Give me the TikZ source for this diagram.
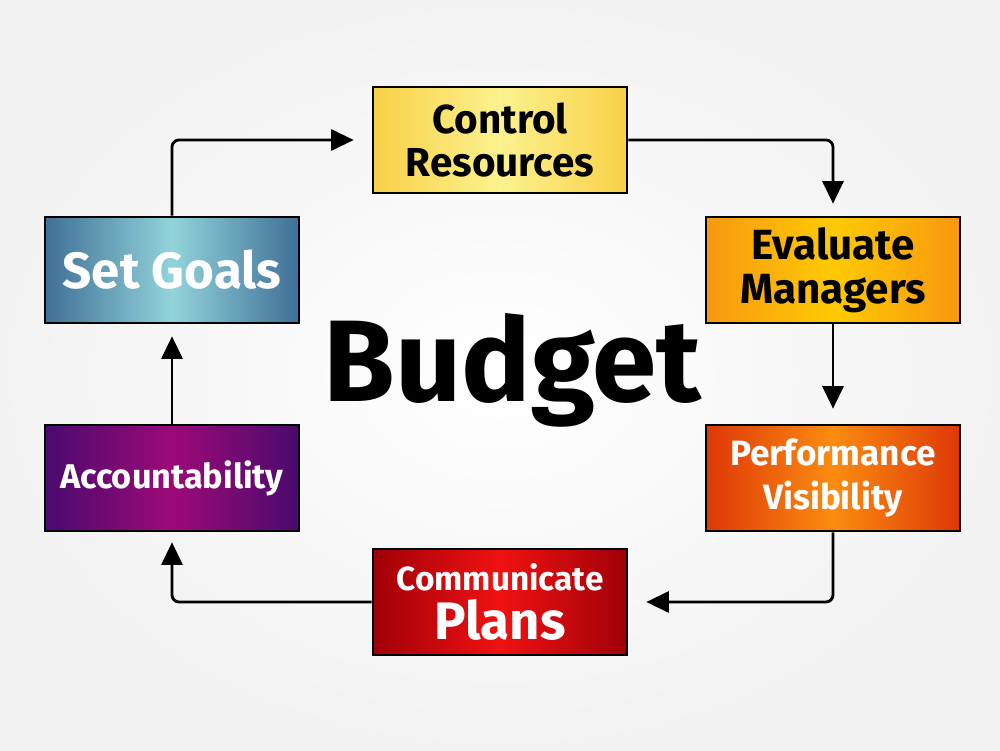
\documentclass[tikz,border=0pt]{standalone}
\usepackage{fontspec}
\setmainfont{Fira Sans}
\usetikzlibrary{arrows.meta}

\definecolor{goalsedge}{HTML}{3F6F96}
\definecolor{goalsmid}{HTML}{92D4DA}
\definecolor{ctrledge}{HTML}{F8D048}
\definecolor{ctrlmid}{HTML}{FBF28E}
\definecolor{evaledge}{HTML}{F89810}
\definecolor{evalmid}{HTML}{FDCA02}
\definecolor{perfedge}{HTML}{DE3808}
\definecolor{perfmid}{HTML}{FB8C10}
\definecolor{commedge}{HTML}{A00008}
\definecolor{commmid}{HTML}{F01212}
\definecolor{acctedge}{HTML}{4A0A6E}
\definecolor{acctmid}{HTML}{9C0A78}

\begin{document}
\begin{tikzpicture}[
    stepbox/.style={draw=black, line width=1.5pt, minimum width=5.08cm, minimum height=2.12cm,
        align=center, inner sep=2pt, font=\bfseries},
    flow/.style={line width=1.6pt, rounded corners=4pt, -{Triangle[length=0.45cm,width=0.42cm]}}
  ]
    % background
    \useasboundingbox (0,0) rectangle (20,15) ;
    \shade [inner color=white, outer color=black!5] (0,0) rectangle (20,15) ;

    % boxes
    \node [stepbox, left color=ctrledge, right color=ctrledge, middle color=ctrlmid, text=black,
        font=\bfseries\fontsize{23}{25}\selectfont] (ctrl) at (10.0,12.2) {Control\\Resources} ;
    \node [stepbox, left color=evaledge, right color=evaledge, middle color=evalmid, text=black,
        font=\bfseries\fontsize{24}{25}\selectfont] (eval) at (16.66,9.6) {Evaluate\\Managers} ;
    \node [stepbox, left color=perfedge, right color=perfedge, middle color=perfmid, text=white,
        font=\bfseries\fontsize{20}{25}\selectfont] (perf) at (16.66,5.44) {Performance\\Visibility} ;
    \node [stepbox, left color=commedge, right color=commedge, middle color=commmid, text=white,
        font=\bfseries\fontsize{19}{28}\selectfont] (comm) at (10.0,2.96)
        {Communicate\\{\fontsize{30}{30}\selectfont Plans}} ;
    \node [stepbox, left color=acctedge, right color=acctedge, middle color=acctmid, text=white,
        font=\bfseries\fontsize{19.5}{22}\selectfont] (acct) at (3.44,5.44) {Accountability} ;
    \node [stepbox, left color=goalsedge, right color=goalsedge, middle color=goalsmid, text=white,
        font=\bfseries\fontsize{29}{32}\selectfont] (goals) at (3.44,9.6) {Set Goals} ;

    % centre
    \node [font=\bfseries\fontsize{66}{66}\selectfont] (budget) at (10.25,7.6) {Budget} ;

    % connectors
    \draw [flow, shorten >=0.36cm] (goals.north) |- (ctrl.west) ;
    \draw [flow, shorten >=0.24cm] (ctrl.east) -| (eval.north) ;
    \draw [flow, shorten >=0.3cm] (eval.south) -- (perf.north) ;
    \draw [flow, shorten >=0.36cm] (perf.south) |- (comm.east) ;
    \draw [flow, shorten >=0.2cm] (comm.west) -| (acct.south) ;
    \draw [flow, shorten >=0.24cm] (acct.north) -- (goals.south) ;
\end{tikzpicture}
\end{document}
